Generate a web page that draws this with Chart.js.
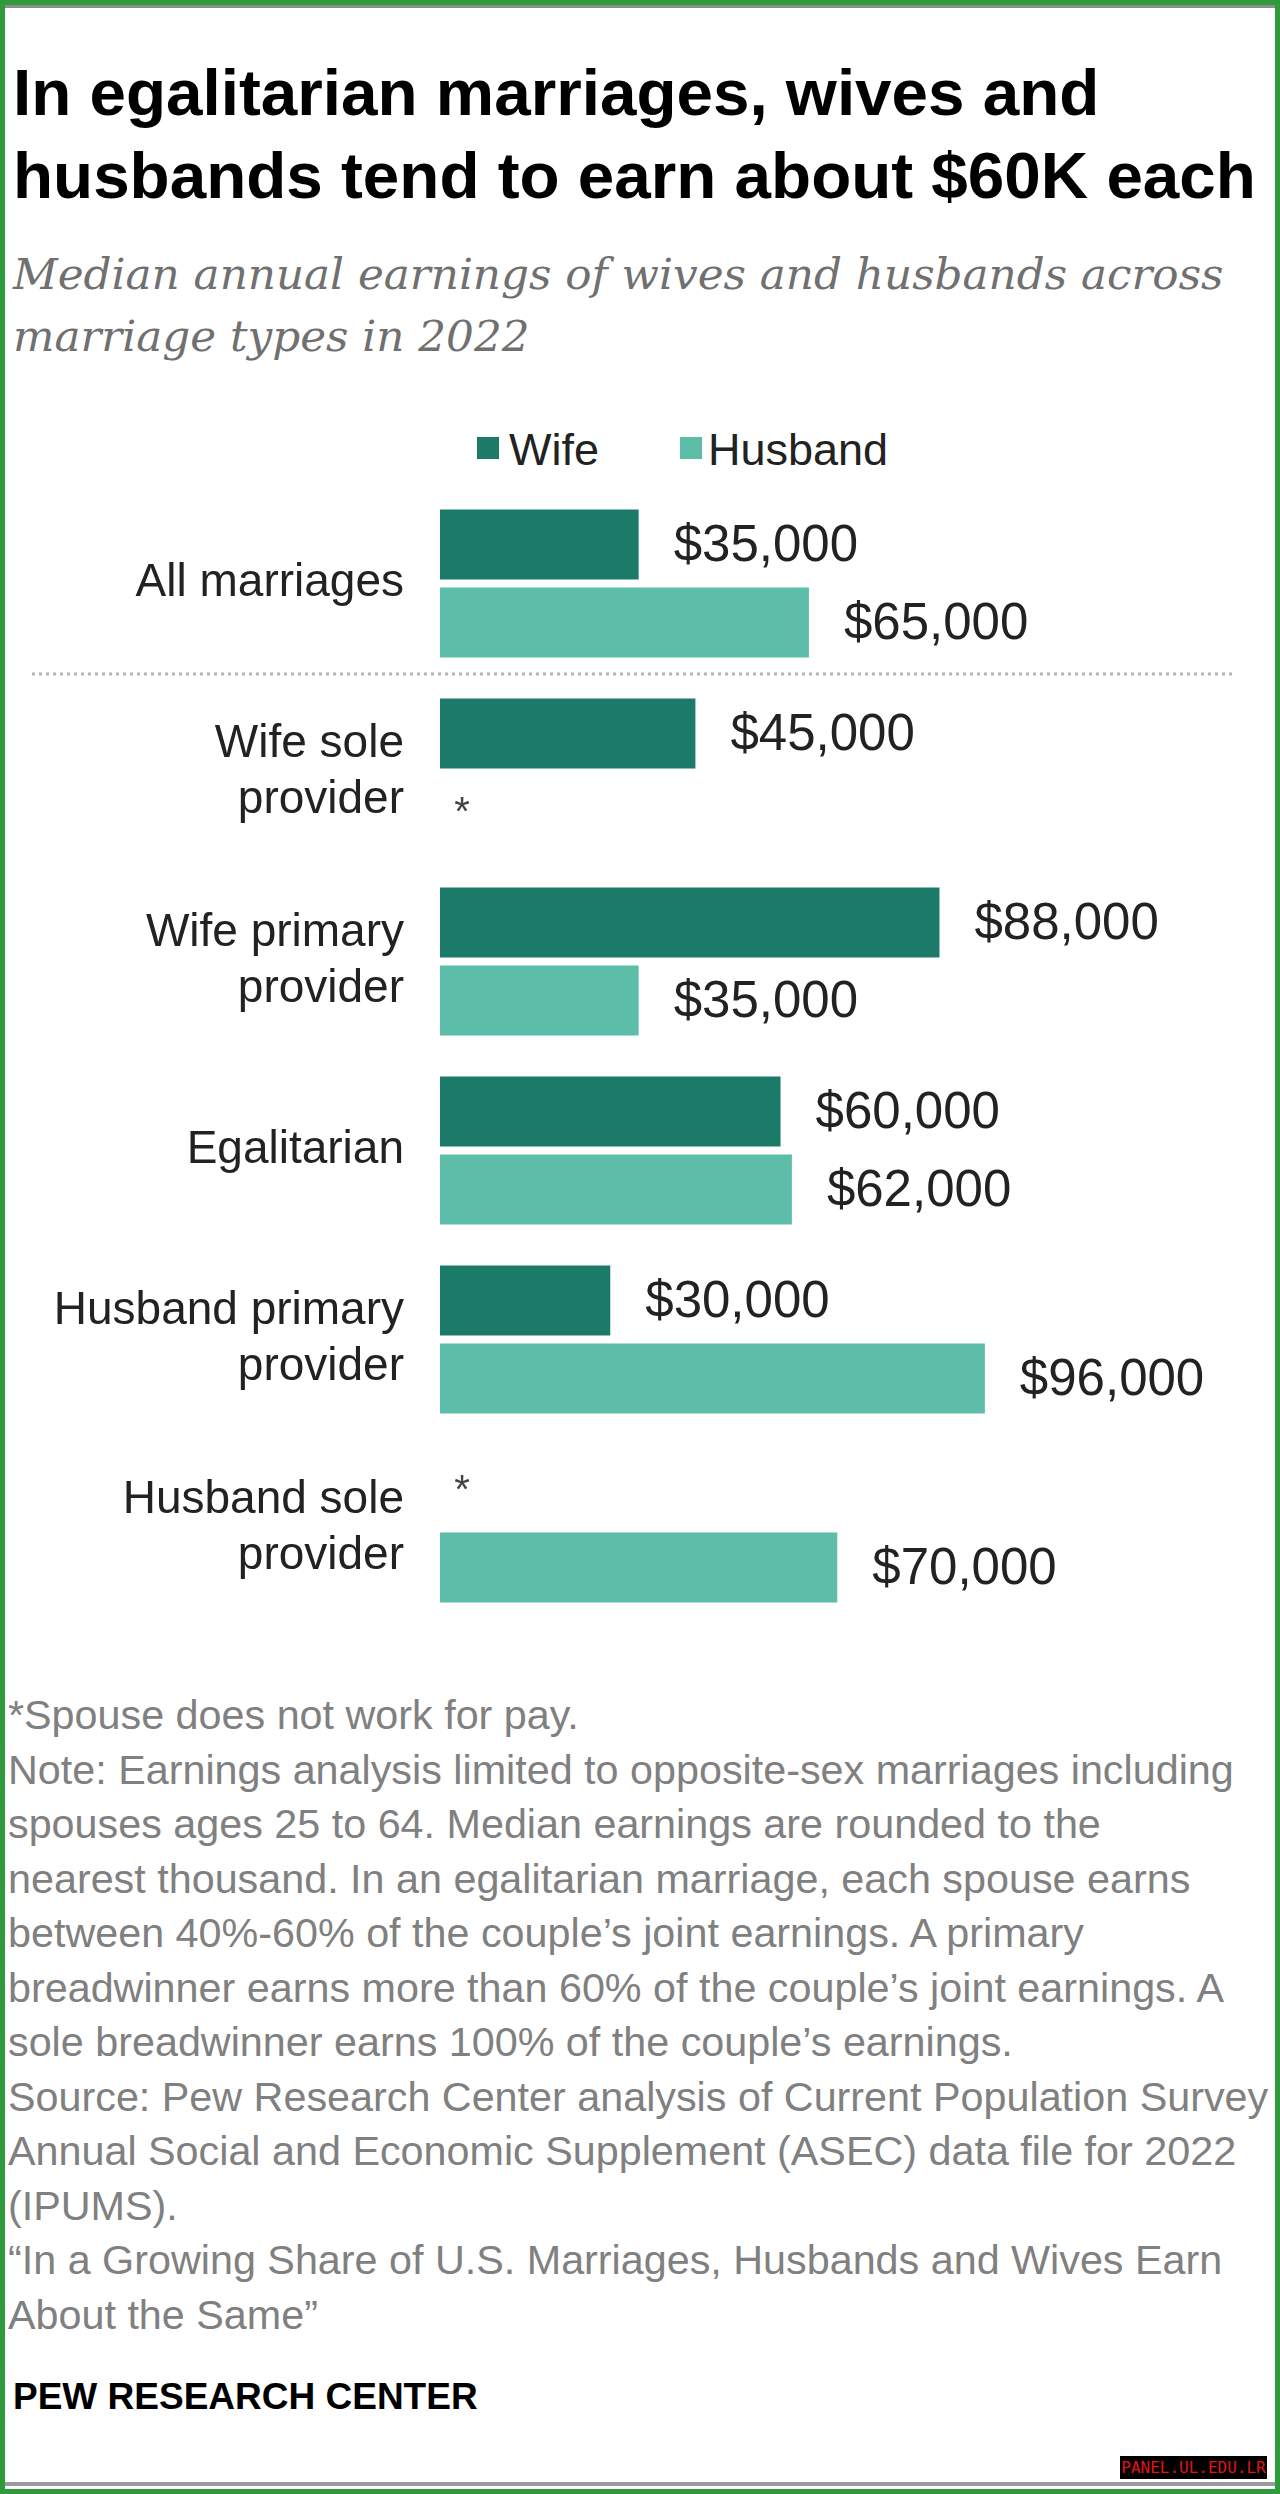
<!DOCTYPE html>
<html lang="en">
<head>
    <meta charset="UTF-8">
    <title>In egalitarian marriages, wives and husbands tend to earn about $60K each</title>
    <script src="https://cdn.jsdelivr.net/npm/chart.js"></script>
    <style>
        body {
            margin: 0;
            width: 1280px;
            height: 2494px;
            position: relative;
            overflow: hidden;
            background: #fff;
            font-family: 'Liberation Sans', Arial, sans-serif;
        }
        .frame {
            position: absolute;
            left: 0; top: 0;
            width: 1280px; height: 2494px;
            box-sizing: border-box;
            border: 5px solid #2e9a3c;
        }
        .strip-top {
            position: absolute;
            left: 5px; right: 5px; top: 5px; height: 3px;
            background: #8c8c8c;
        }
        .strip-bottom {
            position: absolute;
            left: 5px; right: 5px; top: 2482px; height: 4px;
            background: #9a9a9a;
        }
        .title {
            position: absolute;
            left: 13px; top: 51px;
            font-size: 65.6px;
            font-weight: bold;
            line-height: 83px;
            color: #000;
            white-space: nowrap;
        }
        .subtitle {
            position: absolute;
            left: 13px; top: 243px;
            font-family: 'DejaVu Serif', Georgia, serif;
            font-style: italic;
            font-size: 43.7px;
            line-height: 62px;
            color: #707070;
            white-space: nowrap;
        }
        .legend {
            position: absolute;
            top: 423px;
            left: 0;
            font-size: 45px;
            line-height: 54px;
            color: #222;
        }
        .legend span { position: absolute; white-space: nowrap; }
        .legend .sw { width: 22px; height: 22px; top: 14px; }
        #chartBox {
            position: absolute;
            left: 0; top: 489px;
            width: 1280px; height: 1134px;
        }
        .notes {
            position: absolute;
            left: 8px; top: 1688px;
            font-size: 41.3px;
            line-height: 54.5px;
            color: #808080;
            white-space: nowrap;
        }
        .brand {
            position: absolute;
            left: 13px; top: 2374px;
            font-size: 37px;
            line-height: 46px;
            font-weight: bold;
            color: #000;
        }
        .stamp {
            position: absolute;
            left: 1120px; top: 2456px;
            width: 147px; height: 23px;
            background: #000;
            color: #e01414;
            font-family: 'DejaVu Sans Mono', monospace;
            font-size: 16px;
            line-height: 23px;
            text-align: center;
        }
    </style>
</head>
<body>
    <div class="frame"></div>
    <div class="strip-top"></div>
    <div class="strip-bottom"></div>

    <div class="title">
        <div>In egalitarian marriages, wives and</div>
        <div>husbands tend to earn about $60K each</div>
    </div>
    <div class="subtitle">
        <div>Median annual earnings of wives and husbands across</div>
        <div>marriage types in 2022</div>
    </div>

    <div class="legend" id="legend"></div>

    <div id="chartBox">
        <canvas id="earningsChart" width="1280" height="1134"></canvas>
    </div>

    <div class="notes">
        <div>*Spouse does not work for pay.</div>
        <div>Note: Earnings analysis limited to opposite-sex marriages including</div>
        <div>spouses ages 25 to 64. Median earnings are rounded to the</div>
        <div>nearest thousand. In an egalitarian marriage, each spouse earns</div>
        <div>between 40%-60% of the couple’s joint earnings. A primary</div>
        <div>breadwinner earns more than 60% of the couple’s joint earnings. A</div>
        <div>sole breadwinner earns 100% of the couple’s earnings.</div>
        <div>Source: Pew Research Center analysis of Current Population Survey</div>
        <div>Annual Social and Economic Supplement (ASEC) data file for 2022</div>
        <div>(IPUMS).</div>
        <div>“In a Growing Share of U.S. Marriages, Husbands and Wives Earn</div>
        <div>About the Same”</div>
    </div>
    <div class="brand">PEW RESEARCH CENTER</div>
    <div class="stamp">PANEL.UL.EDU.LR</div>

    <script>
        // marriage types (multi-line tick labels)
        const marriageTypes = [
            ['All marriages'],
            ['Wife sole', 'provider'],
            ['Wife primary', 'provider'],
            ['Egalitarian'],
            ['Husband primary', 'provider'],
            ['Husband sole', 'provider']
        ];
        const seriesNames = ['Wife', 'Husband'];
        // median annual earnings, null = spouse does not work for pay
        const wifeEarnings = [35000, 45000, 88000, 60000, 30000, null];
        const husbandEarnings = [65000, null, 35000, 62000, 96000, 70000];
        const seriesColors = ['#1c7a69', '#5cbea9'];

        const labelFont = "'Liberation Sans', Arial, sans-serif";

        // legend (html, sits off-centre like the original)
        const legendPos = [{ sw: 477, txt: 509 }, { sw: 680, txt: 708 }];
        const legendEl = document.getElementById('legend');
        seriesNames.forEach((name, i) => {
            legendEl.innerHTML +=
                '<span class="sw" style="left:' + legendPos[i].sw + 'px;background:' + seriesColors[i] + '"></span>' +
                '<span style="left:' + legendPos[i].txt + 'px">' + name + '</span>';
        });

        // value labels, asterisks and the dotted divider
        const barLabels = {
            id: 'barLabels',
            afterDatasetsDraw(chart) {
                const ctx = chart.ctx;
                const xs = chart.scales.x;
                const ys = chart.scales.y;
                ctx.save();

                const mid = (ys.getPixelForTick(0) + ys.getPixelForTick(1)) / 2 - 4;
                ctx.strokeStyle = '#b4b4b4';
                ctx.lineWidth = 3;
                ctx.setLineDash([3, 4]);
                ctx.beginPath();
                ctx.moveTo(32, mid);
                ctx.lineTo(1236, mid);
                ctx.stroke();
                ctx.setLineDash([]);

                chart.data.datasets.forEach((ds, di) => {
                    const meta = chart.getDatasetMeta(di);
                    meta.data.forEach((bar, i) => {
                        const v = ds.data[i];
                        if (v === null) {
                            ctx.fillStyle = '#444';
                            ctx.font = '40px ' + labelFont;
                            ctx.textAlign = 'center';
                            ctx.textBaseline = 'middle';
                            ctx.fillText('*', xs.getPixelForValue(0) + 22, bar.y + 2);
                            return;
                        }
                        ctx.fillStyle = '#222';
                        ctx.font = '51px ' + labelFont;
                        ctx.textAlign = 'left';
                        ctx.textBaseline = 'middle';
                        ctx.fillText('$' + v.toLocaleString('en-US'), bar.x + 35, bar.y + 2);
                    });
                });
                ctx.restore();
            }
        };

        const earningsChart = new Chart(document.getElementById('earningsChart'), {
            type: 'bar',
            data: {
                labels: marriageTypes,
                datasets: [
                    { label: seriesNames[0], data: wifeEarnings, backgroundColor: seriesColors[0] },
                    { label: seriesNames[1], data: husbandEarnings, backgroundColor: seriesColors[1] }
                ]
            },
            options: {
                indexAxis: 'y',
                responsive: false,
                animation: false,
                layout: { padding: 0 },
                datasets: {
                    bar: { categoryPercentage: 0.825, barPercentage: 0.897 }
                },
                scales: {
                    x: { display: false, min: 0, max: 148000 },
                    y: {
                        grid: { display: false, drawTicks: false },
                        border: { display: false },
                        ticks: {
                            padding: 36,
                            color: '#222',
                            font: { family: labelFont, size: 46, lineHeight: 1.22 }
                        },
                        afterFit(scale) {
                            scale.width = 440;
                            scale.paddingTop = 0;
                            scale.paddingBottom = 0;
                        }
                    }
                },
                plugins: {
                    legend: { display: false },
                    tooltip: { enabled: false }
                }
            },
            plugins: [barLabels]
        });
    </script>
</body>
</html>
